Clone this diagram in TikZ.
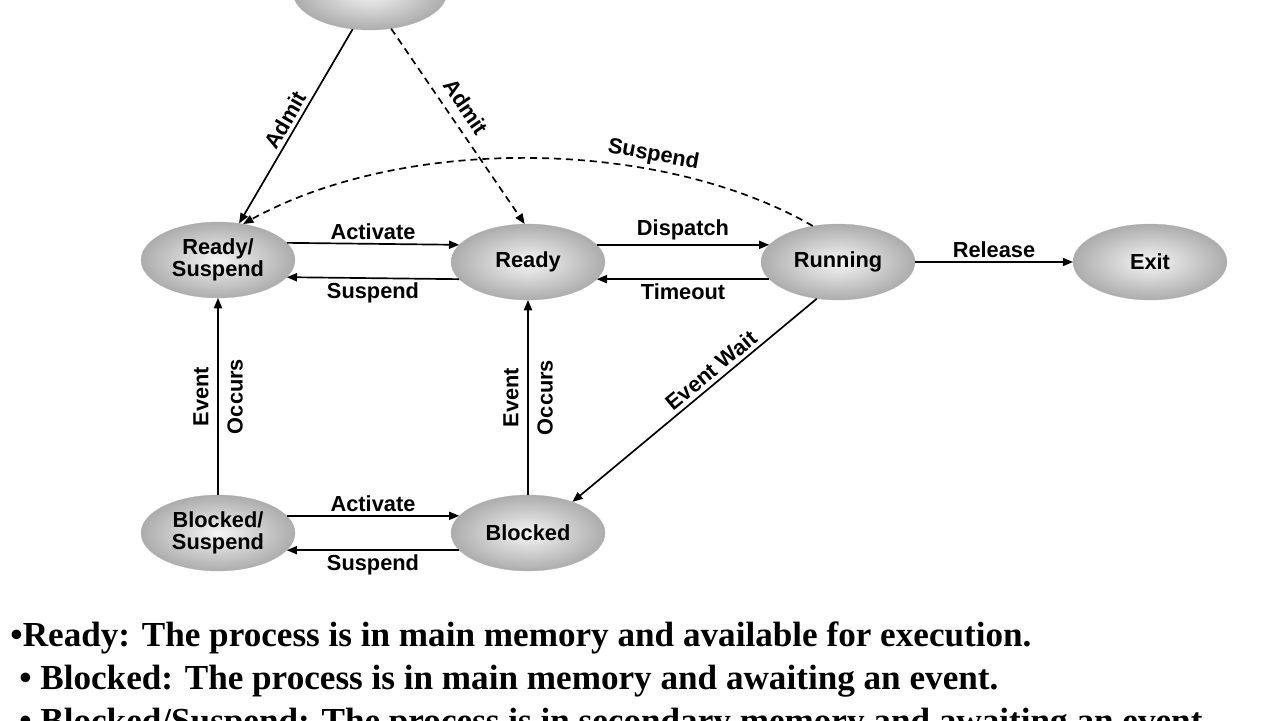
\documentclass[tikz,border=0pt]{standalone}
\usepackage{fontspec}
\setmainfont{Liberation Serif}
\newfontfamily\lblfont{Liberation Sans}
\usetikzlibrary{arrows,shapes.geometric}

\begin{document}
\begin{tikzpicture}[x=0.05cm,y=-0.05cm,->,>=triangle 45,
  state node/.style={ellipse,draw=gray!60,thin,inner color=gray!8,outer color=gray!65,
    minimum width=7.7cm,minimum height=3.8cm,align=center,
    font=\lblfont\bfseries\fontsize{31}{32}\selectfont},
  edge label/.style={font=\lblfont\bfseries\fontsize{31}{32}\selectfont,black,inner sep=5pt},
  note/.style={anchor=west,font=\bfseries\fontsize{50}{52}\selectfont}]
  \clip (0,0) rectangle (1280,720);
  \fill[white] (0,0) rectangle (1280,720);
  % states
  \node[state node] (new)  at (370,-8)  {New};
  \node[state node] (rs)   at (218,260) {Ready/\\Suspend};
  \node[state node] (rd)   at (528,262) {Ready};
  \node[state node] (run)  at (838,262) {Running};
  \node[state node] (exit) at (1150,262) {Exit};
  \node[state node] (bs)   at (218,533) {Blocked/\\Suspend};
  \node[state node] (blk)  at (528,533) {Blocked};

  % transitions
  \path[every node/.style={edge label},every edge/.style={draw,->,line width=2.4pt,dash pattern=on 10pt off 7pt}]
    (new.245) edge[solid] node[sloped,above] {Admit} (rs.60)
    (new.300) edge node[sloped,above=8pt,pos=0.45] {Admit} (rd.95)
    (run.125) edge[out=150,in=30,looseness=0.8] node[sloped,above,pos=0.3] {Suspend} (rs.55);
  \path[every node/.style={edge label},every edge/.style={draw,->,line width=2.4pt}]
    (rs.14) edge node[above] {Activate} (rd.166)
    (rd.194) edge node[below] {Suspend} (rs.346)
    (rd.14) edge node[above] {Dispatch} (run.166)
    (run.194) edge node[below] {Timeout} (rd.346)
    (run) edge node[above] {Release} (exit)
    (run.240) edge node[sloped,above,pos=0.4] {Event Wait} (blk.35)
    (bs) edge node[rotate=90,yshift=0.85cm] {Event} node[rotate=90,yshift=-0.85cm] {Occurs} (rs)
    (blk) edge node[rotate=90,yshift=0.85cm] {Event} node[rotate=90,yshift=-0.85cm] {Occurs} (rd)
    (bs.14) edge node[above] {Activate} (blk.166)
    (blk.194) edge node[below] {Suspend} (bs.346);

  % notes
  \node[note] (n1) at (8,638) {\textbullet Ready: The process is in main memory and available for execution.};
  \node[note] (n2) at (8,681) {\ \textbullet\ Blocked: The process is in main memory and awaiting an event.};
  \node[note] (n3) at (8,724) {\ \textbullet\ Blocked/Suspend: The process is in secondary memory and awaiting an event.};
\end{tikzpicture}
\end{document}
